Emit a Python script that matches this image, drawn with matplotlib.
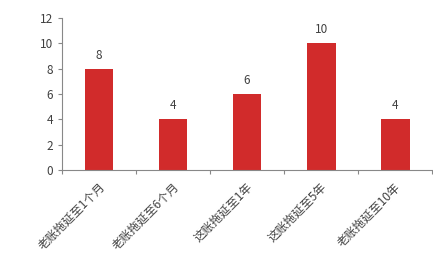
import matplotlib
matplotlib.use("Agg")
import matplotlib.pyplot as plt
import numpy as np

plt.rcParams['font.family'] = ['Noto Sans CJK SC', 'DejaVu Sans']

categories = ["老账拖延至1个月", "老账拖延至6个月", "这账拖延至1年", "这账拖延至5年", "老账拖延至10年"]
values = [8, 4, 6, 10, 4]
y_ticks = [0, 2, 4, 6, 8, 10, 12]

bar_color = '#d12b2b'
text_color = '#404040'
axis_color = '#888888'

fig = plt.figure(figsize=(4.33, 2.59), dpi=100)
ax = fig.add_axes([0.143, 0.344, 0.855, 0.587])

x = np.arange(len(categories))
bars = ax.bar(x, values, width=0.39, color=bar_color)

for xi, v in zip(x, values):
    ax.text(xi, v + 0.55, str(v), ha='center', va='bottom', fontsize=8.5, color=text_color)

ax.set_xlim(-0.5, len(categories) - 0.5)
ax.set_ylim(0, 12)
ax.set_yticks(y_ticks)
ax.tick_params(axis='y', labelsize=8.5, colors=axis_color, labelcolor=text_color, length=3, width=0.8)

# ticks sit between categories, labels under the bars
ax.set_xticks(np.arange(len(categories) + 1) - 0.5)
ax.set_xticklabels([])
ax.tick_params(axis='x', colors=axis_color, length=3, width=0.8)
for xi, name in zip(x, categories):
    ax.text(xi + 0.05, -1.2, name, rotation=45, rotation_mode='anchor', ha='right', va='center',
            fontsize=8.5, color=text_color)

for side in ['top', 'right']:
    ax.spines[side].set_visible(False)
for side in ['left', 'bottom']:
    ax.spines[side].set_color(axis_color)
    ax.spines[side].set_linewidth(0.8)

fig.savefig("out.png", dpi=100)
